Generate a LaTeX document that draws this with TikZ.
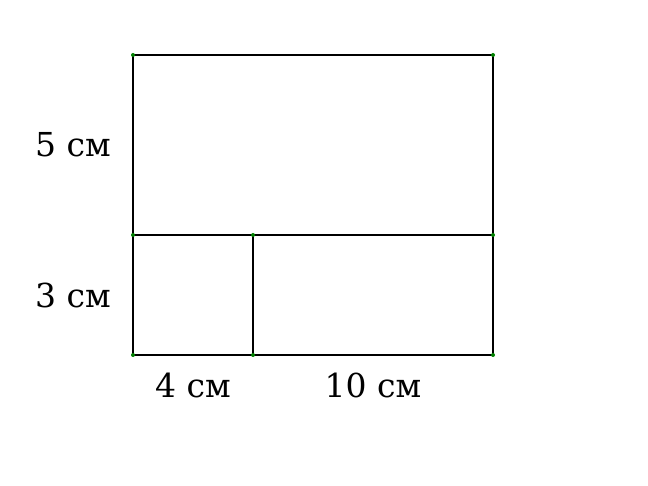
\documentclass[tikz,border=0pt]{standalone}
\usepackage{fontspec}
\setmainfont{DejaVu Serif}
\tikzset{
    lbl/.style={inner sep=0pt, font=\fontsize{33}{40}\selectfont},
    pt/.style={fill=green!50!black},
}
\begin{document}
\begin{tikzpicture}[x=1pt, y=-1pt, line width=1.5pt]
    \useasboundingbox (0, 0) rectangle (648, 486);
    \coordinate (A) at (133, 55);
    \coordinate (B) at (493, 55);
    \coordinate (C) at (133, 235);
    \coordinate (D) at (493, 235);
    \coordinate (E) at (253, 235);
    \coordinate (F) at (133, 355);
    \coordinate (G) at (253, 355);
    \coordinate (H) at (493, 355);
    \draw (A) -- (B) -- (H) -- (F) -- cycle;
    \draw (C) -- (D);
    \draw (E) -- (G);
    \foreach \p in {A, B, C, D, E, F, G, H}
        \fill[pt] (\p) circle (2pt);
    \node[lbl] (top) at (73, 145) {5 см};
    \node[lbl] (bot) at (73, 295) {3 см};
    \node[lbl] (left) at (193, 385) {4 см};
    \node[lbl] (right) at (373, 385) {10 см};
\end{tikzpicture}
\end{document}
